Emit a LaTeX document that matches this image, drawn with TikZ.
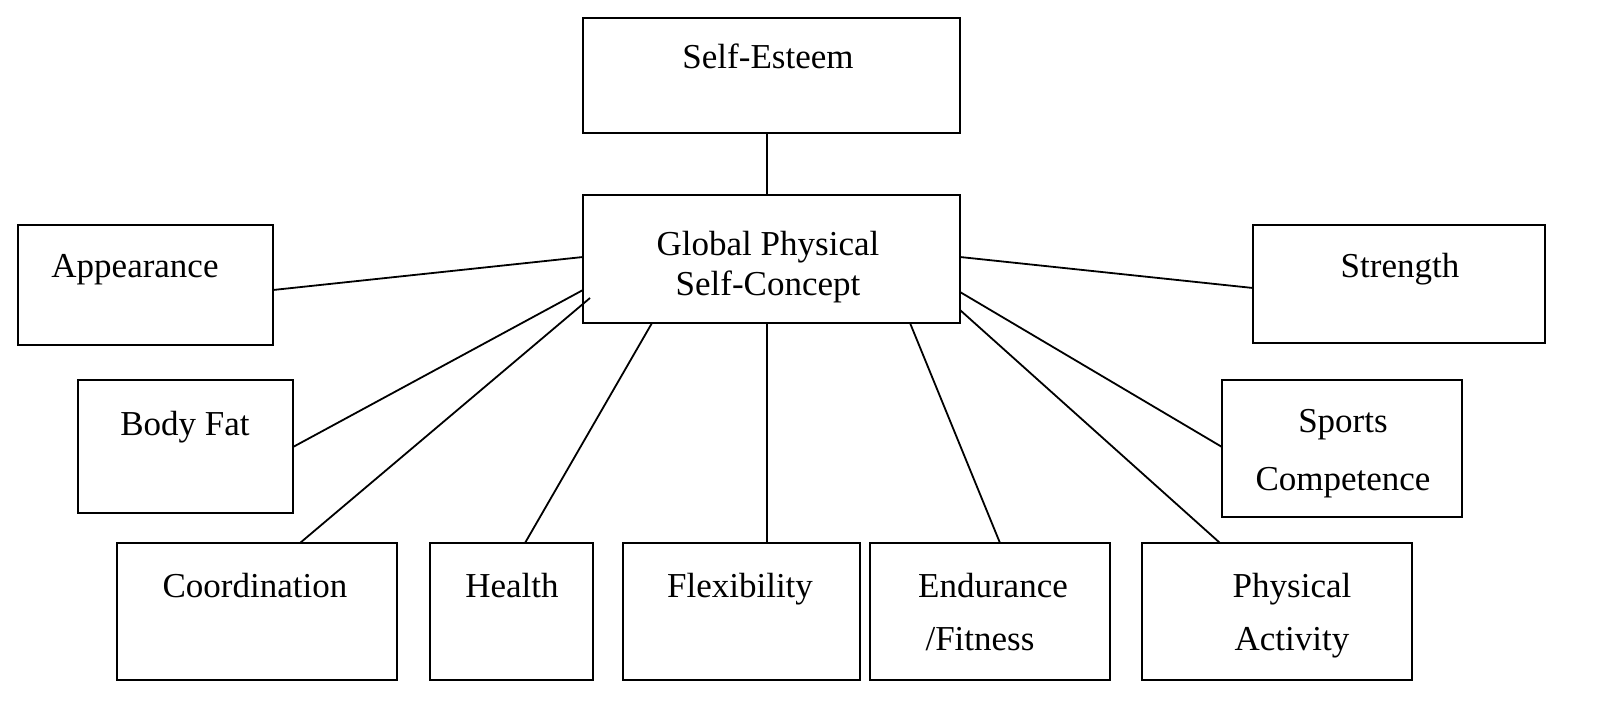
\documentclass[tikz,border=0pt]{standalone}
\usepackage{fontspec}
\setmainfont{Liberation Serif}
\begin{document}
\begin{tikzpicture}[x=1pt,y=-1pt,
  bx/.style={draw,line width=2.2pt},
  lb/.style={font=\fontsize{35}{42}\selectfont,inner sep=0pt,anchor=base},
  ln/.style={line width=1.8pt}]
\useasboundingbox (0,0) rectangle (1600,717);
\draw[bx] (583,18) rectangle (960,133);
\draw[bx] (583,195) rectangle (960,323);
\draw[bx] (18,225) rectangle (273,345);
\draw[bx] (1253,225) rectangle (1545,343);
\draw[bx] (78,380) rectangle (293,513);
\draw[bx] (1222,380) rectangle (1462,517);
\draw[bx] (117,543) rectangle (397,680);
\draw[bx] (430,543) rectangle (593,680);
\draw[bx] (623,543) rectangle (860,680);
\draw[bx] (870,543) rectangle (1110,680);
\draw[bx] (1142,543) rectangle (1412,680);
\node[lb] (se) at (768,68) {Self-Esteem};
\node[lb] (g1) at (768,255) {Global Physical};
\node[lb] (g2) at (768,295) {Self-Concept};
\node[lb] (ap) at (135,277) {Appearance};
\node[lb] (st) at (1400,277) {Strength};
\node[lb] (bf) at (185,435) {Body Fat};
\node[lb] (sp1) at (1343,432) {Sports};
\node[lb] (sp2) at (1343,490) {Competence};
\node[lb] (co) at (255,597) {Coordination};
\node[lb] (he) at (512,597) {Health};
\node[lb] (fl) at (740,597) {Flexibility};
\node[lb] (en1) at (993,597) {Endurance};
\node[lb] (en2) at (980,650) {/Fitness};
\node[lb] (pa1) at (1292,597) {Physical};
\node[lb] (pa2) at (1292,650) {Activity};
\coordinate (a1) at (767,133); \coordinate (a2) at (767,195);
\coordinate (b1) at (273,290); \coordinate (b2) at (583,257);
\coordinate (c1) at (960,257); \coordinate (c2) at (1253,288);
\coordinate (d1) at (293,447); \coordinate (d2) at (583,290);
\coordinate (e1) at (960,292); \coordinate (e2) at (1222,447);
\coordinate (f1) at (590,298); \coordinate (f2) at (300,543);
\coordinate (h1) at (652,323); \coordinate (h2) at (525,543);
\coordinate (i1) at (767,323); \coordinate (i2) at (767,543);
\coordinate (j1) at (910,323); \coordinate (j2) at (1000,543);
\coordinate (k1) at (960,310); \coordinate (k2) at (1220,543);
\foreach \p/\q in {a1/a2,b1/b2,c1/c2,d1/d2,e1/e2,f1/f2,h1/h2,i1/i2,j1/j2,k1/k2}
  \draw[ln] (\p) -- (\q);
\end{tikzpicture}
\end{document}
